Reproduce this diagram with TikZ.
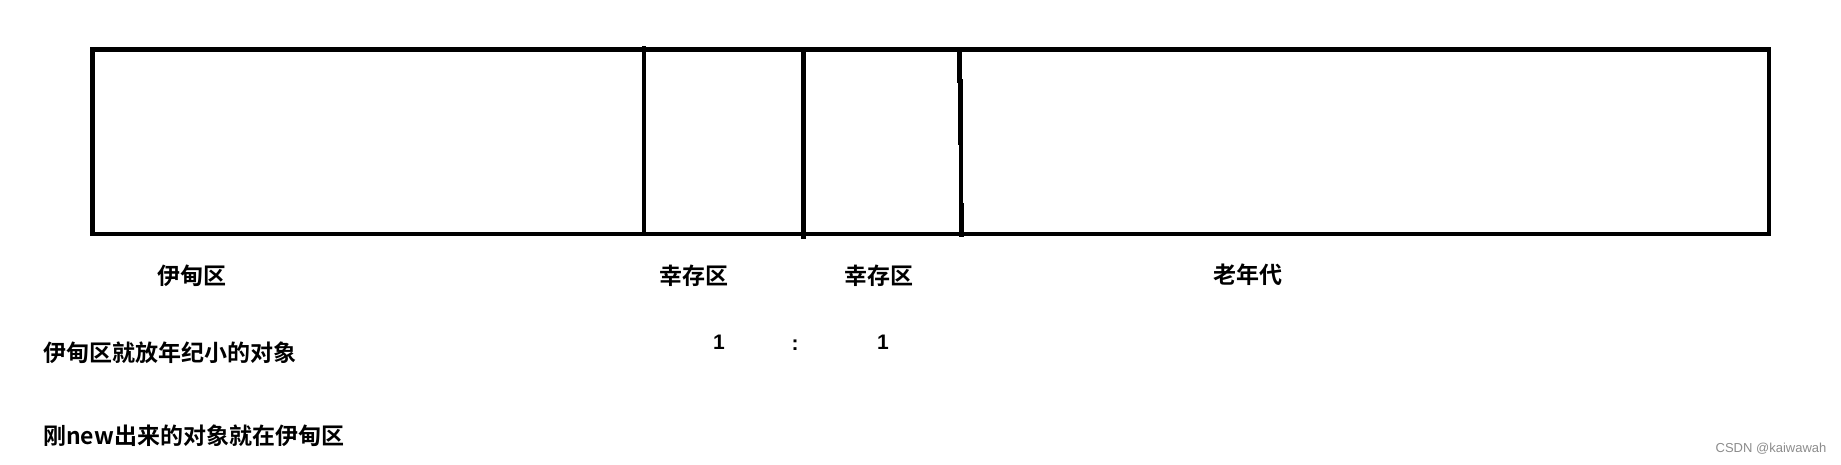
\documentclass[tikz,border=0pt]{standalone}
\usepackage{fontspec}
\setmainfont{Noto Sans CJK SC}[BoldFont={* Bold}]
\newfontfamily\cjkbold{Noto Sans CJK SC Bold}
\newfontfamily\wmfont{Liberation Sans}
\newfontfamily\numfont{Liberation Sans Bold}
\begin{document}
\begin{tikzpicture}[x=1pt,y=-1pt,
  box/.style={line width=4.8pt,black,line join=miter},
  lbl/.style={inner sep=0pt,anchor=center,font=\cjkbold\fontsize{23}{27}\selectfont},
  num/.style={inner sep=0pt,anchor=center,font=\numfont\fontsize{21}{25}\selectfont},
  wm/.style={inner sep=0pt,anchor=center,text=black!45,font=\wmfont\fontsize{13}{15}\selectfont}]
\useasboundingbox (0,0) rectangle (1841,464);
% outer box
\draw[box] (92.5,49.5) rectangle (1769,234);
% dividers
\draw[box] (644,46) -- (644,232);
\draw[box] (803.3,52) -- (803.3,239);
\draw[box] (959.3,52) -- (959.3,81) -- (960.2,81) -- (960.2,143) -- (961,143) -- (961,205) -- (961.7,205) -- (961.7,237);
% labels
\node[lbl] (eden) at (192,276) {伊甸区};
\node[lbl] (s0) at (694,276) {幸存区};
\node[lbl] (s1) at (879,276) {幸存区};
\node[lbl] (old) at (1247.5,275) {老年代};
\node[num] (r1) at (719,342.5) {1};
\node[num] (rc) at (795,345) {:};
\node[num] (r2) at (883,342.5) {1};
\node[lbl,anchor=west] (t1) at (43,353) {伊甸区就放年纪小的对象};
\node[lbl,anchor=west] (t2) at (43,436) {刚new出来的对象就在伊甸区};
\node[wm] (w) at (1771,449) {CSDN @kaiwawah};
\end{tikzpicture}
\end{document}
